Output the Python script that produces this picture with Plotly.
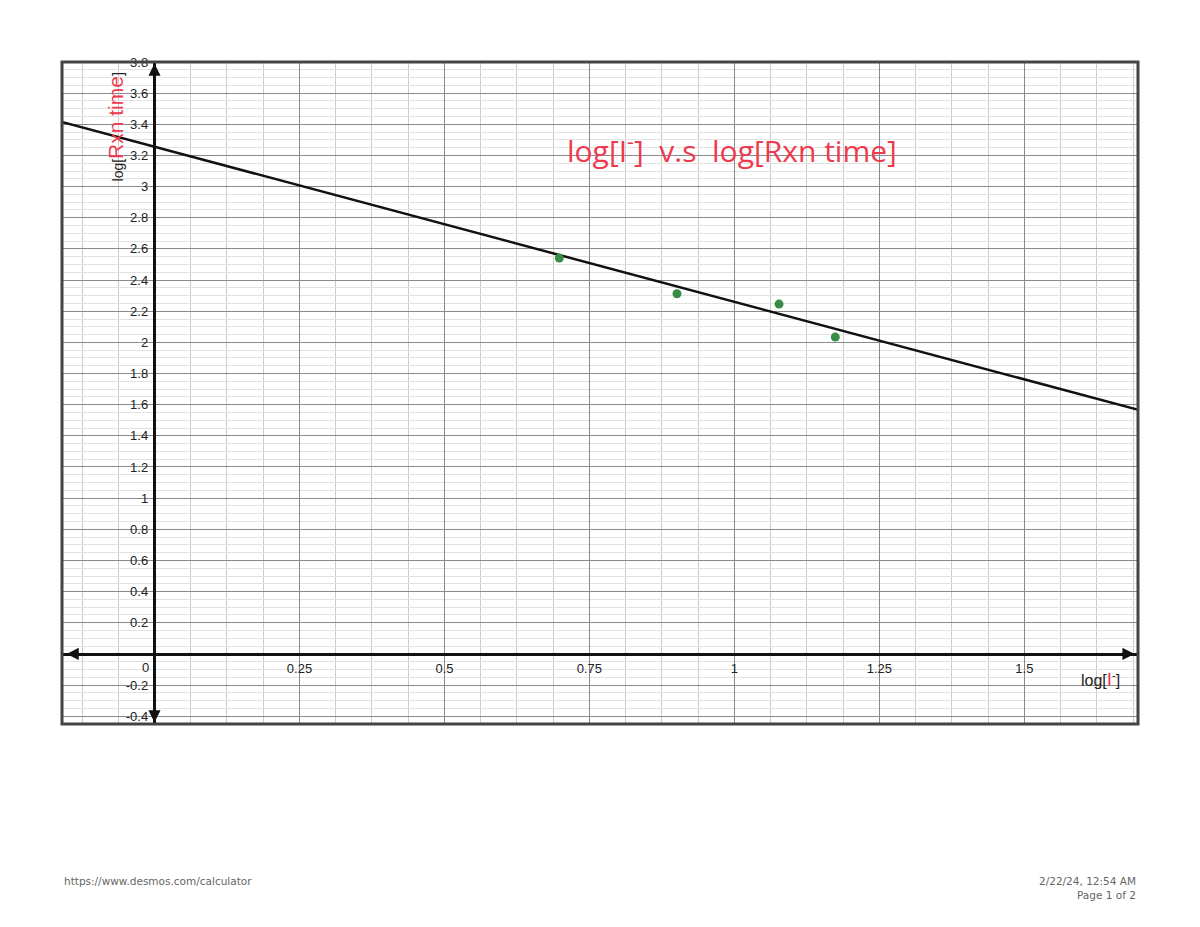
import plotly.graph_objects as go

# data
log_iodide = [0.698, 0.901, 1.077, 1.174]
log_rxn_time = [2.541, 2.312, 2.246, 2.034]

# best fit line (endpoints, clipped by the axes)
fit_x = [-0.3, 1.9]
fit_y = [3.555, 1.364]

x_ticks = [0.25, 0.5, 0.75, 1, 1.25, 1.5]
x_labels = ["0.25", "0.5", "0.75", "1", "1.25", "1.5"]
y_ticks = [-0.4, -0.2, 0.2, 0.4, 0.6, 0.8, 1, 1.2, 1.4, 1.6, 1.8, 2,
           2.2, 2.4, 2.6, 2.8, 3, 3.2, 3.4, 3.6, 3.8]
y_labels = ["-0.4", "-0.2", "0.2", "0.4", "0.6", "0.8", "1", "1.2", "1.4", "1.6",
            "1.8", "2", "2.2", "2.4", "2.6", "2.8", "3", "3.2", "3.4", "3.6", "3.8"]

x_range = [-0.1595, 1.696]
y_range = [-0.45, 3.80]

red = "#ee3a4e"
green = "#388c46"
tick_font = dict(family="Liberation Sans, Arial", size=13, color="#222222")

fig = go.Figure()

fig.add_trace(go.Scatter(
    x=fit_x, y=fit_y, mode="lines",
    line=dict(color="#111111", width=2.5),
    hoverinfo="skip", showlegend=False
))
fig.add_trace(go.Scatter(
    x=log_iodide, y=log_rxn_time, mode="markers",
    marker=dict(color=green, size=9),
    showlegend=False
))

# where the axes cross zero (paper fractions)
x0_frac = (0 - x_range[0]) / (x_range[1] - x_range[0])
y0_frac = (0 - y_range[0]) / (y_range[1] - y_range[0])

fig.update_xaxes(
    range=x_range, anchor="free", position=y0_frac,
    tickvals=x_ticks, ticktext=x_labels, ticks="",
    showline=True, linecolor="#111111", linewidth=2.5,
    zeroline=False,
    showgrid=True, gridcolor="#8a8a8a", gridwidth=1,
    minor=dict(dtick=0.0625, tick0=0, showgrid=True, gridcolor="#cccccc", gridwidth=1),
    tickfont=tick_font,
    ticklabelstandoff=2,
)
fig.update_yaxes(
    range=y_range, anchor="free", position=x0_frac,
    tickvals=y_ticks, ticktext=y_labels, ticks="",
    showline=True, linecolor="#111111", linewidth=2.5,
    zeroline=False,
    showgrid=True, gridcolor="#8a8a8a", gridwidth=1,
    minor=dict(dtick=0.05, tick0=0, showgrid=True, gridcolor="#e2e2e2", gridwidth=1),
    tickfont=tick_font,
    ticklabelstandoff=3,
)

# arrow heads on the axes
arrows = [
    dict(x=x_range[0] + 0.008, y=0, ax=14, ay=0),
    dict(x=x_range[1] - 0.006, y=0, ax=-14, ay=0),
    dict(x=0, y=y_range[1] - 0.01, ax=0, ay=14),
    dict(x=0, y=y_range[0] + 0.01, ax=0, ay=-14),
]
for a in arrows:
    fig.add_annotation(x=a["x"], y=a["y"], ax=a["ax"], ay=a["ay"], text="",
                       showarrow=True, arrowhead=2, arrowsize=1.1, arrowwidth=2.2,
                       arrowcolor="#111111", xref="x", yref="y")

# origin label
fig.add_annotation(x=0, y=0, text="0", showarrow=False, xanchor="right", yanchor="top",
                   xshift=-3, yshift=-4, font=tick_font)

# handwritten title
fig.add_annotation(x=0.996, y=3.24, xref="x", yref="y",
                   text="log[I<sup>-</sup>]  v.s  log[Rxn time]", showarrow=False,
                   font=dict(family="Open Sans", size=30, color=red))

# axis titles
fig.add_annotation(x=-0.068, y=3.38, xref="x", yref="y", textangle=-90,
                   text="log[<span style='color:" + red + ";font-size:21px'>Rxn time</span>]",
                   showarrow=False,
                   font=dict(family="Liberation Sans, Arial", size=14, color="#222222"))
fig.add_annotation(x=1.668, y=-0.167, xref="x", yref="y",
                   text="log[<span style='color:" + red + ";font-size:19px'>I</span><sup>-</sup>]",
                   showarrow=False, xanchor="right",
                   font=dict(family="Liberation Sans, Arial", size=16, color="#222222"))

# frame around the graph
fig.add_shape(type="rect", xref="paper", yref="paper", x0=0, y0=0, x1=1, y1=1,
              line=dict(color="#444444", width=3))

# print footer
footer_font = dict(family="DejaVu Sans", size=10.5, color="#666666")
fig.add_annotation(x=0, y=-0.249, xref="paper", yref="paper", xanchor="left",
                   text="https://www.desmos.com/calculator", showarrow=False, font=footer_font)
fig.add_annotation(x=1, y=-0.249, xref="paper", yref="paper", xanchor="right",
                   text="2/22/24, 12:54 AM", showarrow=False, font=footer_font)
fig.add_annotation(x=1, y=-0.270, xref="paper", yref="paper", xanchor="right",
                   text="Page 1 of 2", showarrow=False, font=footer_font)

fig.update_layout(
    width=1200, height=927,
    margin=dict(l=54, r=70, t=54, b=211),
    paper_bgcolor="white", plot_bgcolor="white",
)

fig.write_html("out.html")
